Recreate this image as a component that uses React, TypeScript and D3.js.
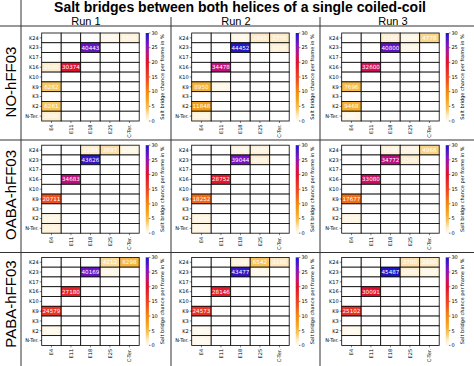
import React from 'react';
import * as d3 from 'd3';

// categories
const yCats = ['K24', 'K23', 'K17', 'K16', 'K10', 'K9', 'K3', 'K2', 'N-Ter.'];
const xCats = ['E4', 'E11', 'E18', 'E25', 'C-Ter.'];
const runs = ['Run 1', 'Run 2', 'Run 3'];
const systems = ['NO-hFF03', 'OABA-hFF03', 'PABA-hFF03'];
const cbTicks = [0, 5, 10, 15, 20, 25, 30];
const totalFrames = 150000;

// salt bridge counts, rows = yCats, cols = xCats
const noRun1 = [
  [0, 0, 0, 500, 1500],
  [0, 0, 40443, 0, 0],
  [0, 0, 0, 0, 0],
  [2500, 30374, 0, 0, 0],
  [0, 0, 0, 0, 0],
  [6282, 0, 0, 0, 0],
  [0, 0, 0, 0, 0],
  [6261, 0, 0, 0, 0],
  [2000, 0, 0, 0, 0],
];
const noRun2 = [
  [0, 0, 800, 2960, 2770],
  [0, 0, 44452, 0, 1800],
  [0, 0, 0, 0, 0],
  [0, 34478, 0, 0, 0],
  [0, 0, 0, 0, 0],
  [8950, 800, 0, 0, 0],
  [0, 0, 0, 0, 0],
  [11848, 0, 0, 0, 0],
  [1500, 0, 0, 0, 0],
];
const noRun3 = [
  [0, 0, 2100, 1000, 4770],
  [0, 0, 40800, 1000, 0],
  [0, 0, 0, 0, 0],
  [0, 32600, 0, 0, 0],
  [0, 0, 0, 0, 0],
  [7696, 0, 0, 0, 0],
  [0, 0, 0, 0, 0],
  [9468, 0, 0, 0, 0],
  [800, 0, 0, 0, 0],
];
const oabaRun1 = [
  [0, 0, 2200, 3897, 1000],
  [0, 0, 43626, 0, 0],
  [0, 0, 0, 0, 0],
  [0, 34683, 0, 0, 0],
  [0, 0, 0, 0, 0],
  [20711, 0, 0, 0, 0],
  [0, 0, 0, 0, 0],
  [1000, 0, 0, 0, 0],
  [1500, 0, 0, 0, 0],
];
const oabaRun2 = [
  [0, 0, 1000, 1500, 0],
  [0, 0, 39044, 2000, 0],
  [0, 0, 0, 0, 0],
  [0, 28752, 0, 0, 0],
  [0, 0, 0, 0, 0],
  [18252, 0, 0, 0, 0],
  [0, 0, 0, 0, 0],
  [1200, 0, 0, 0, 0],
  [1000, 0, 0, 0, 0],
];
const oabaRun3 = [
  [0, 0, 1500, 1200, 4966],
  [0, 0, 34772, 2500, 0],
  [0, 0, 0, 0, 0],
  [0, 33080, 0, 0, 0],
  [0, 0, 0, 0, 0],
  [17677, 0, 0, 0, 0],
  [0, 0, 0, 0, 0],
  [1000, 0, 0, 0, 0],
  [0, 0, 0, 0, 0],
];
const pabaRun1 = [
  [0, 0, 0, 4212, 8298],
  [0, 0, 40169, 800, 0],
  [0, 0, 0, 0, 0],
  [0, 27180, 0, 0, 0],
  [0, 0, 0, 0, 0],
  [24579, 0, 0, 0, 0],
  [0, 0, 0, 0, 0],
  [500, 0, 0, 0, 0],
  [0, 0, 0, 0, 0],
];
const pabaRun2 = [
  [0, 0, 1500, 6542, 3160],
  [0, 0, 43477, 500, 0],
  [0, 0, 0, 0, 0],
  [0, 28146, 0, 0, 0],
  [0, 0, 0, 0, 0],
  [24573, 0, 0, 0, 0],
  [0, 0, 0, 0, 0],
  [300, 0, 0, 0, 0],
  [300, 0, 0, 0, 0],
];
const pabaRun3 = [
  [0, 0, 0, 3700, 2800],
  [0, 0, 45487, 2000, 1000],
  [0, 0, 0, 0, 0],
  [0, 30091, 0, 0, 0],
  [0, 0, 0, 0, 0],
  [25102, 0, 0, 0, 0],
  [0, 0, 0, 0, 0],
  [300, 0, 0, 0, 0],
  [0, 0, 0, 0, 0],
];

const panels = [
  [noRun1, noRun2, noRun3],
  [oabaRun1, oabaRun2, oabaRun3],
  [pabaRun1, pabaRun2, pabaRun3],
];

const W = 474;
const H = 366;
const gw = 97.5;
const gh = 88;
const colX = [41.7, 191.7, 341.7];
const rowY = [33, 145.2, 257.4];

const color = d3
  .scaleLinear<string>()
  .domain([0, 2, 4, 7, 10, 14, 20, 23, 26, 30])
  .range(['#fffbf2', '#fde9c4', '#f8c864', '#f4a622', '#f38a12', '#ef4e1e', '#e0102c', '#c0107c', '#7c14c4', '#1a18c4'])
  .clamp(true);

const font = 'DejaVu Sans, sans-serif';

function Panel({ data, x0, y0, id }) {
  const x = d3.scaleBand().domain(xCats).range([x0, x0 + gw]);
  const y = d3.scaleBand().domain(yCats).range([y0, y0 + gh]);
  const cbx = x0 + 104;
  const cbw = 3.2;
  const cbScale = d3.scaleLinear().domain([0, 30]).range([y0 + gh, y0]);
  const gradId = 'cb' + id;
  const stops = d3.range(0, 31, 1);
  return (
    <g>
      <defs>
        <linearGradient id={gradId} x1="0" y1="1" x2="0" y2="0">
          {stops.map((s) => (
            <stop key={s} offset={s / 30} stopColor={color(s)} />
          ))}
        </linearGradient>
      </defs>
      {data.map((row, i) =>
        row.map((v, j) => (
          <g key={i + '-' + j}>
            <rect
              x={x(xCats[j])}
              y={y(yCats[i])}
              width={x.bandwidth()}
              height={y.bandwidth()}
              fill={v > 0 ? color((v / totalFrames) * 100) : '#ffffff'}
              stroke="#000"
              strokeWidth={0.8}
            />
            {v > 0 && (
              <text
                x={x(xCats[j]) + x.bandwidth() / 2}
                y={y(yCats[i]) + y.bandwidth() / 2 + 2}
                textAnchor="middle"
                fontSize={5.6}
                fill="#fff"
                fontFamily={font}
              >
                {v}
              </text>
            )}
          </g>
        ))
      )}
      {yCats.map((c) => (
        <g key={c}>
          <line x1={x0 - 2} x2={x0} y1={y(c) + y.bandwidth() / 2} y2={y(c) + y.bandwidth() / 2} stroke="#000" strokeWidth={0.5} />
          <text x={x0 - 3} y={y(c) + y.bandwidth() / 2 + 1.8} textAnchor="end" fontSize={5} fontFamily={font}>
            {c}
          </text>
        </g>
      ))}
      {xCats.map((c) => {
        const cx = x(c) + x.bandwidth() / 2;
        return (
          <g key={c}>
            <line x1={cx} x2={cx} y1={y0 + gh} y2={y0 + gh + 2} stroke="#000" strokeWidth={0.5} />
            <text
              transform={`translate(${cx + 1.8},${y0 + gh + 3.5}) rotate(-90)`}
              textAnchor="end"
              fontSize={5}
              fontFamily={font}
            >
              {c}
            </text>
          </g>
        );
      })}
      <rect x={cbx} y={y0} width={cbw} height={gh} fill={`url(#${gradId})`} />
      {cbTicks.map((t) => (
        <g key={t}>
          <line x1={cbx + cbw} x2={cbx + cbw + 1.5} y1={cbScale(t)} y2={cbScale(t)} stroke="#000" strokeWidth={0.5} />
          <text x={cbx + cbw + 2.5} y={cbScale(t) + 1.8} fontSize={5} fontFamily={font}>
            {t}
          </text>
        </g>
      ))}
      <text
        transform={`translate(${cbx + 18},${y0 + gh / 2}) rotate(-90)`}
        textAnchor="middle"
        fontSize={5}
        fontFamily={font}
      >
        Salt bridge chance per frame in %
      </text>
    </g>
  );
}

export default function App() {
  const labelY = [82, 195, 304];
  const runX = [86, 236, 393];
  return (
    <svg width={W} height={H} style={{ position: 'absolute', left: 0, top: 0, background: '#fff' }}>
      <rect width={W} height={H} fill="#fff" />
      <text x={240} y={12} textAnchor="middle" fontSize={14} fontWeight="bold" fontFamily="Liberation Sans, Arial, sans-serif">
        Salt bridges between both helices of a single coiled-coil
      </text>
      {runs.map((r, i) => (
        <text key={r} x={runX[i]} y={25} textAnchor="middle" fontSize={11} fontFamily="Liberation Sans, Arial, sans-serif">
          {r}
        </text>
      ))}
      <line x1={21} x2={21} y1={0} y2={H} stroke="#333" strokeWidth={1} />
      <line x1={171} x2={171} y1={17} y2={H} stroke="#333" strokeWidth={1} />
      <line x1={320} x2={320} y1={17} y2={H} stroke="#333" strokeWidth={1} />
      <line x1={0} x2={W} y1={26} y2={26} stroke="#333" strokeWidth={1} />
      <line x1={0} x2={W} y1={140} y2={140} stroke="#333" strokeWidth={1} />
      <line x1={0} x2={W} y1={252.5} y2={252.5} stroke="#333" strokeWidth={1} />
      {systems.map((s, i) => (
        <text
          key={s}
          transform={`translate(16,${labelY[i]}) rotate(-90)`}
          textAnchor="middle"
          fontSize={15}
          fontFamily="Liberation Sans, Arial, sans-serif"
        >
          {s}
        </text>
      ))}
      {panels.map((row, i) =>
        row.map((data, j) => (
          <Panel key={i + '-' + j} id={i + '-' + j} data={data} x0={colX[j]} y0={rowY[i]} />
        ))
      )}
    </svg>
  );
}
